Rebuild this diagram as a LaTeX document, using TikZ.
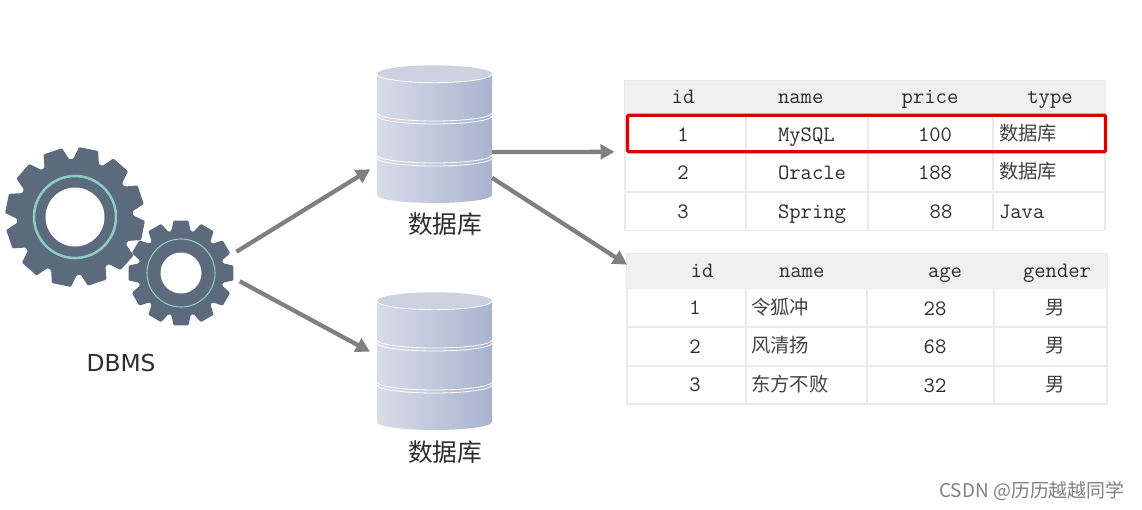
\documentclass[tikz,border=0pt]{standalone}
\usepackage{fontspec}
\usepackage{tikz}
\usetikzlibrary{arrows.meta}
\newfontfamily\cjk{Noto Sans CJK SC}
\newfontfamily\dejavu{DejaVu Sans}
\definecolor{gearslate}{RGB}{91,106,125}
\definecolor{gearteal}{RGB}{142,203,196}
\definecolor{dbleft}{RGB}{216,220,232}
\definecolor{dbright}{RGB}{168,180,207}
\definecolor{dbtop}{RGB}{205,210,225}
\definecolor{arrowgray}{RGB}{128,128,128}
\definecolor{gridgray}{RGB}{234,234,234}
\definecolor{headgray}{RGB}{240,240,240}
\definecolor{inkgray}{RGB}{45,45,45}
\definecolor{rowred}{RGB}{222,0,0}
% #1 centre, #2 tooth offset, #3 root, #4 outer, #5 ring, #6 ring width, #7 hole
\newcommand{\gearshape}[7]{
  \begin{scope}[shift={#1}]
    \fill[gearslate, rounded corners=0.8pt] (#2-13:#3)
      \foreach \k in {0,...,11} {
        -- (#2+\k*30-13:#3) -- (#2+\k*30-8:#4) -- (#2+\k*30+8:#4) -- (#2+\k*30+13:#3)
      } -- cycle;
    \draw[gearteal, line width=#6] (0,0) circle (#5);
    \fill[white] (0,0) circle (#7);
  \end{scope}
}
% #1 vertical offset of the cylinder
\newcommand{\dbshape}[1]{
  \begin{scope}[shift={(377,#1)}]
    \path[left color=dbleft, right color=dbright] (0,9)
      -- (0,130) arc[start angle=180, end angle=360, x radius=43.1pt, y radius=6pt]
      -- (115,9) arc[start angle=0, end angle=180, x radius=43.1pt, y radius=6pt];
    \fill[dbtop] (57.5,9) ellipse[x radius=43.1pt, y radius=6.5pt];
    \draw[white, semithick] (0,9) arc[start angle=180, end angle=360, x radius=43.1pt, y radius=6.5pt];
    \foreach \h in {48,51,90,93} {
      \draw[white, semithick] (0,\h) arc[start angle=180, end angle=360, x radius=43.1pt, y radius=6pt];
    }
  \end{scope}
}
\begin{document}
\begin{tikzpicture}[
  x=0.75pt, y=-0.75pt,
  anchorbox/.style={inner sep=0pt, outer sep=0pt},
  flow/.style={-{Triangle[length=10.5pt, width=11pt]}, line width=3.2pt, color=arrowgray},
  dblabel/.style={anchorbox, font=\cjk\fontsize{18.5}{20}\selectfont, text=inkgray},
  monocell/.style={anchorbox, anchor=mid, yshift=-3pt, font=\ttfamily\fontsize{16.5}{18}\selectfont, text=inkgray},
  monoleft/.style={monocell, anchor=mid west},
  cjkcell/.style={anchorbox, anchor=mid west, yshift=-3pt, font=\cjk\fontsize{14.5}{16}\selectfont, text=inkgray!90},
  cjkmid/.style={cjkcell, anchor=mid},
  tablebox/.style={anchorbox, draw=gridgray, line width=0.8pt, minimum width=360pt},
  gridline/.style={gridgray, line width=0.8pt}
]
\useasboundingbox (0,0) rectangle (1142,510);
\fill[white] (0,0) rectangle (1142,510);

% gears
\gearshape{(75,217)}{-78.7}{58}{70}{41}{1.9pt}{29.5}
\gearshape{(181,273)}{-90}{43}{53}{34}{0.8pt}{20.5}
\node[circle, anchorbox, minimum size=78pt] (bigear) at (75,217) {};
\node[circle, anchorbox, minimum size=89pt] (smallgear) at (181,273) {};
\node[anchorbox, font=\dejavu\fontsize{17.5}{20}\selectfont, text=inkgray] (dbms) at (121,363) {DBMS};

% databases
\dbshape{65}
\dbshape{292}
\node[anchorbox, minimum width=86.25pt, minimum height=103pt] (dbup) at (434.5,134.5) {};
\node[anchorbox, minimum width=86.25pt, minimum height=103pt] (dbdown) at (434.5,361.5) {};
\node[dblabel] (dbuplabel) at (445,224) {数据库};
\node[dblabel] (dbdownlabel) at (445,452) {数据库};

% first table
\node[tablebox, minimum height=112.5pt] (tblup) at (865,155.5) {};
\fill[headgray] (625,81) rectangle (1105,114);
\draw[gridline] (746,114) -- (746,230) (868,114) -- (868,230) (993,114) -- (993,230);
\draw[gridline] (625,192) -- (1105,192);
\node[monocell] (upidh) at (683,97) {id};
\node[monoleft] (upnameh) at (778,97) {name};
\node[monocell] (uppriceh) at (930,97) {price};
\node[monocell] (uptypeh) at (1050,97) {type};
\node[monocell] (upida) at (683,135) {1};
\node[monoleft] (upnamea) at (778,135) {MySQL};
\node[monocell] (uppricea) at (935,135) {100};
\node[cjkcell] (uptypea) at (999,134) {数据库};
\node[monocell] (upidb) at (683,173) {2};
\node[monoleft] (upnameb) at (778,173) {Oracle};
\node[monocell] (uppriceb) at (935,173) {188};
\node[cjkcell] (uptypeb) at (999,172) {数据库};
\node[monocell] (upidc) at (683,212) {3};
\node[monoleft] (upnamec) at (778,212) {Spring};
\node[monocell] (uppricec) at (941,212) {88};
\node[monoleft] (uptypec) at (999,212) {Java};
\node[anchorbox, draw=rowred, line width=2.4pt, rounded corners=1pt,
  minimum width=358.5pt, minimum height=27.5pt] (redrow) at (866.5,133.5) {};

% second table
\node[tablebox, minimum height=112.5pt] (tbldown) at (867,329) {};
\fill[headgray] (627,254) rectangle (1107,289);
\draw[gridline] (746,289) -- (746,404) (867,289) -- (867,404) (994,289) -- (994,404);
\draw[gridline] (627,327) -- (1107,327) (627,366) -- (1107,366);
\node[monocell] (downidh) at (702,271) {id};
\node[monoleft] (downnameh) at (779,271) {name};
\node[monocell] (downageh) at (945,271) {age};
\node[monocell] (downgenderh) at (1057,271) {gender};
\node[monocell] (downida) at (695,308) {1};
\node[cjkcell] (downnamea) at (751,308) {令狐冲};
\node[monocell] (downagea) at (935,309) {28};
\node[cjkmid] (downgendera) at (1055,308) {男};
\node[monocell] (downidb) at (695,347) {2};
\node[cjkcell] (downnameb) at (751,346) {风清扬};
\node[monocell] (downageb) at (935,347) {68};
\node[cjkmid] (downgenderb) at (1055,346) {男};
\node[monocell] (downidc) at (695,385) {3};
\node[cjkcell] (downnamec) at (751,385) {东方不败};
\node[monocell] (downagec) at (935,386) {32};
\node[cjkmid] (downgenderc) at (1055,385) {男};

% connectors
\draw[flow, shorten >=6pt] (smallgear.21) -- (dbup.208);
\draw[flow, shorten >=6pt] (smallgear.-8) -- (dbdown.174);
\draw[flow] (dbup.-17) -- ([xshift=-9.75pt]redrow.south west);
\draw[flow] (dbup.-37) -- (tbldown.165.5);

\node[anchorbox, font=\cjk\fontsize{14.2}{16}\selectfont, text=black!50] (mark) at (1032,491) {CSDN @历历越越同学};
\end{tikzpicture}
\end{document}
